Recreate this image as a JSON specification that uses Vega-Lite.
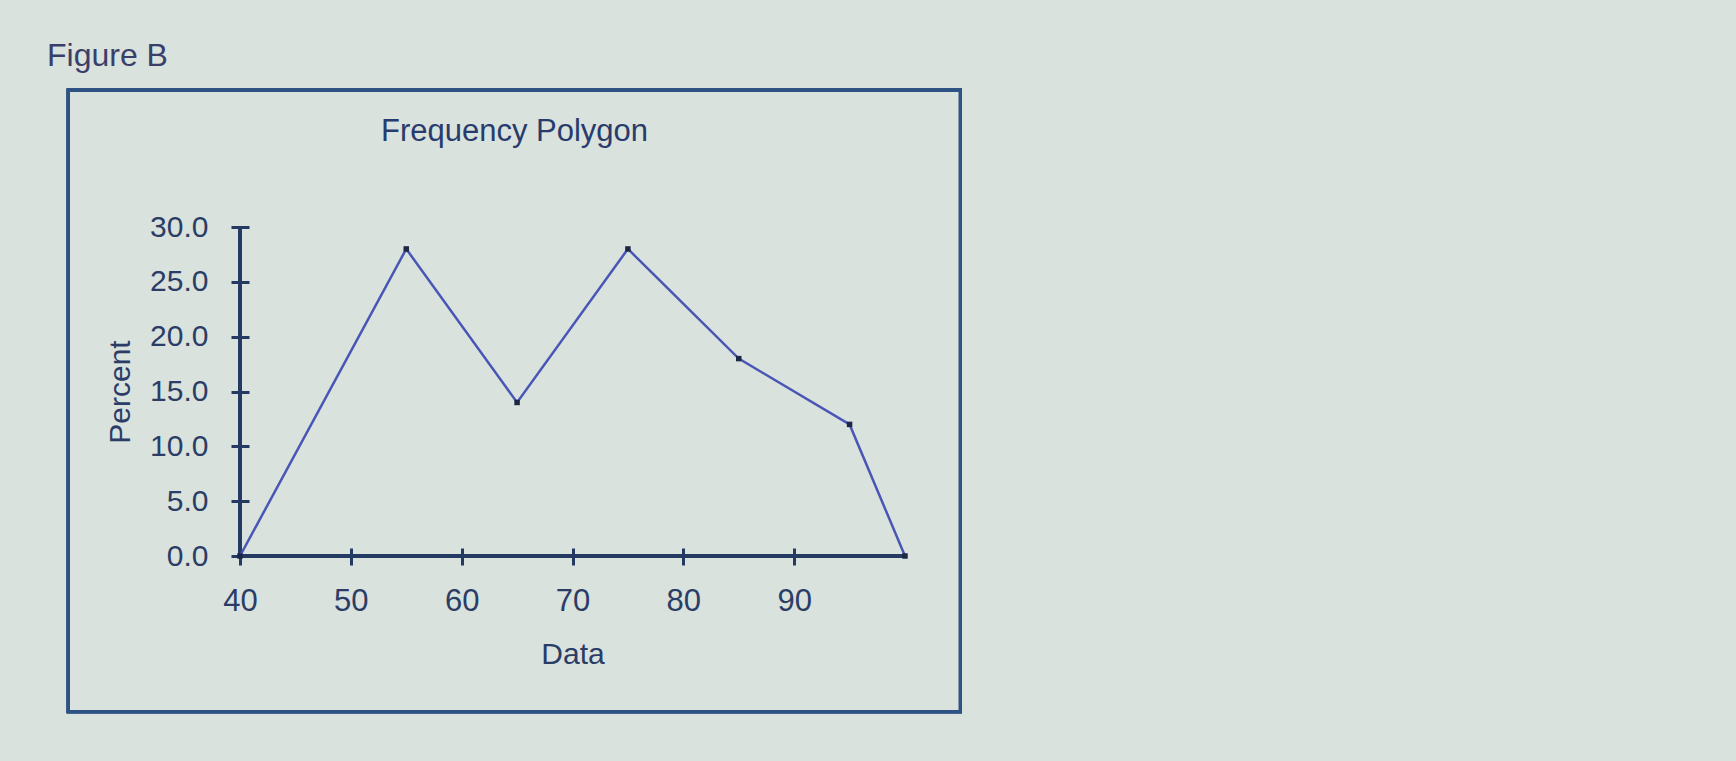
{
  "$schema": "https://vega.github.io/schema/vega-lite/v6.json",
  "width": 665,
  "height": 329,
  "autosize": {"type": "none"},
  "padding": {"left": 240, "top": 227, "right": 831, "bottom": 205},
  "background": "#d9e2dd",
  "title": {
    "text": "Figure B",
    "anchor": "start",
    "frame": "group",
    "baseline": "alphabetic",
    "offset": -10,
    "dx": -193,
    "fontSize": 32,
    "fontWeight": "normal",
    "color": "#3a3f6a"
  },
  "data": {
    "values": [
      {"data": 40, "percent": 0},
      {"data": 55, "percent": 28},
      {"data": 65, "percent": 14},
      {"data": 75, "percent": 28},
      {"data": 85, "percent": 18},
      {"data": 95, "percent": 12},
      {"data": 100, "percent": 0}
    ]
  },
  "layer": [
    {
      "mark": {"type": "rect", "filled": false, "stroke": "#2e5283", "strokeWidth": 3},
      "encoding": {
        "x": {
          "datum": 24.5,
          "type": "quantitative",
          "scale": {"domain": [40, 100], "nice": false, "zero": false},
          "axis": {
            "orient": "top",
            "title": "Frequency Polygon",
            "labels": false,
            "ticks": false,
            "domain": false,
            "grid": false,
            "titleAlign": "center",
            "titleBaseline": "alphabetic",
            "titleX": 274,
            "titleY": -87,
            "titleFontSize": 31,
            "titleFontWeight": "normal",
            "titleColor": "#283b6c"
          }
        },
        "x2": {"datum": 105},
        "y": {
          "datum": 42.5,
          "type": "quantitative",
          "scale": {"domain": [0, 30], "nice": false, "zero": false},
          "axis": {
            "orient": "left",
            "values": [0, 5, 10, 15, 20, 25, 30],
            "format": ".1f",
            "domain": false,
            "grid": false,
            "offset": -9,
            "tickSize": 18,
            "tickWidth": 3,
            "tickColor": "#243a63",
            "labelFontSize": 30,
            "labelColor": "#2b3d66",
            "labelPadding": 23,
            "labelFlush": false,
            "labelOverlap": false,
            "title": "Percent",
            "titleFontSize": 30,
            "titleFontWeight": "normal",
            "titleColor": "#2b3d66",
            "titlePadding": 14
          }
        },
        "y2": {"datum": -14.2}
      }
    },
    {
      "mark": {"type": "rule", "stroke": "#243a63", "strokeWidth": 3},
      "encoding": {
        "x": {"datum": 40, "type": "quantitative", "axis": null},
        "x2": {"datum": 100},
        "y": {"datum": 0, "type": "quantitative"}
      }
    },
    {
      "mark": {"type": "rule", "stroke": "#243a63", "strokeWidth": 3},
      "encoding": {
        "x": {"datum": 40, "type": "quantitative", "axis": null},
        "y": {"datum": 0, "type": "quantitative"},
        "y2": {"datum": 30}
      }
    },
    {
      "mark": {
        "type": "line",
        "stroke": "#4a56b6",
        "strokeWidth": 2.5,
        "point": {"filled": true, "shape": "square", "size": 30, "color": "#1c2745"}
      },
      "encoding": {
        "x": {
          "field": "data",
          "type": "quantitative",
          "axis": {
            "orient": "bottom",
            "values": [40, 50, 60, 70, 80, 90],
            "domain": false,
            "grid": false,
            "offset": -8,
            "tickSize": 17,
            "tickWidth": 3,
            "tickColor": "#243a63",
            "labelFontSize": 31,
            "labelColor": "#2b3d66",
            "labelPadding": 21,
            "labelFlush": false,
            "labelOverlap": false,
            "title": "Data",
            "titleFontSize": 30,
            "titleFontWeight": "normal",
            "titleColor": "#2b3d66",
            "titlePadding": 23
          }
        },
        "y": {
          "field": "percent",
          "type": "quantitative"
        }
      }
    }
  ],
  "config": {
    "view": {"stroke": null},
    "font": "Liberation Sans"
  }
}
